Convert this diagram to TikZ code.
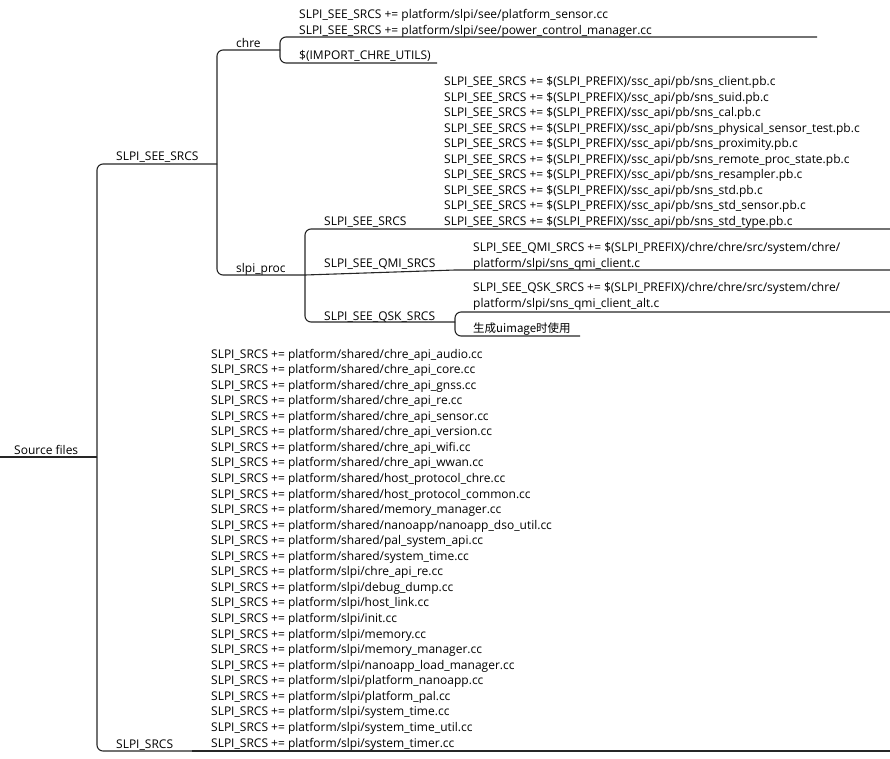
\documentclass[tikz,border=0pt]{standalone}
\usepackage{fontspec}
\setmainfont{Open Sans}
\newfontfamily\cjk{Noto Sans CJK SC}
\begin{document}
\begin{tikzpicture}[x=1pt,y=-1pt,
  lbl/.style={anchor=base west,inner sep=0pt,font=\fontsize{12}{14}\selectfont},
  ln/.style={line width=1.1pt,color=black!85},
  br/.style={ln,rounded corners=6pt}]
\useasboundingbox (0,0) rectangle (890,758);
% root
\node[lbl] (root) at (14,454) {Source files};
\coordinate (rootE) at (97,457);
\draw[ln,line width=1.4pt] (0,457) -- (rootE);
% SLPI_SEE_SRCS
\node[lbl] (see) at (116,160) {SLPI\_SEE\_SRCS};
\coordinate (seeE) at (217,164);
\draw[br] (rootE) |- (seeE);
% SLPI_SRCS
\node[lbl] (srcs) at (116,748) {SLPI\_SRCS};
\coordinate (srcsE) at (192,751);
\draw[br] (rootE) |- (srcsE);
% chre
\node[lbl] (chre) at (236,47) {chre};
\coordinate (chreE) at (280,50);
\draw[br] (seeE) |- (chreE);
\node[lbl] (c1a) at (299,18) {SLPI\_SEE\_SRCS += platform/slpi/see/platform\_sensor.cc};
\node[lbl] (c1b) at (299,34) {SLPI\_SEE\_SRCS += platform/slpi/see/power\_control\_manager.cc};
\coordinate (c1E) at (817,37);
\draw[br] (chreE) |- (c1E);
\node[lbl] (c2) at (299,59) {\$(IMPORT\_CHRE\_UTILS)};
\coordinate (c2E) at (437,63);
\draw[br] (chreE) |- (c2E);
% slpi_proc
\node[lbl] (proc) at (236,272) {slpi\_proc};
\coordinate (procE) at (305,275);
\draw[br] (seeE) |- (procE);
% proc children
\node[lbl] (p1) at (324,225) {SLPI\_SEE\_SRCS};
\coordinate (p1E) at (444,229);
\draw[br] (procE) |- (p1E) -- (890,229);
\foreach [count=\i] \f in {sns\_client,sns\_suid,sns\_cal,sns\_physical\_sensor\_test,sns\_proximity,sns\_remote\_proc\_state,sns\_resampler,sns\_std,sns\_std\_sensor,sns\_std\_type}
  \node[lbl] (pl\i) at (444,{85.5+(\i-1)*15.5}) {SLPI\_SEE\_SRCS += \$(SLPI\_PREFIX)/ssc\_api/pb/\f.pb.c};
\node[lbl] (p2) at (324,267) {SLPI\_SEE\_QMI\_SRCS};
\coordinate (p2E) at (455,270);
\draw[ln] (procE) -- (p2E) -- (890,270);
\node[lbl] (q1) at (473,251) {SLPI\_SEE\_QMI\_SRCS += \$(SLPI\_PREFIX)/chre/chre/src/system/chre/};
\node[lbl] (q2) at (473,267) {platform/slpi/sns\_qmi\_client.c};
\node[lbl] (p3) at (324,320) {SLPI\_SEE\_QSK\_SRCS};
\coordinate (p3E) at (455,322);
\draw[br] (procE) |- (p3E);
\node[lbl] (k1) at (473,291) {SLPI\_SEE\_QSK\_SRCS += \$(SLPI\_PREFIX)/chre/chre/src/system/chre/};
\node[lbl] (k2) at (473,307) {platform/slpi/sns\_qmi\_client\_alt.c};
\coordinate (k1E) at (890,312);
\draw[br] (p3E) |- (k1E);
\node[lbl,font=\cjk\fontsize{11.5}{14}\selectfont] (k3) at (473,332) {生成uimage时使用};
\coordinate (k3E) at (580,336);
\draw[br] (p3E) |- (k3E);
% SLPI_SRCS leaves
\foreach [count=\i] \f in {shared/chre\_api\_audio,shared/chre\_api\_core,shared/chre\_api\_gnss,shared/chre\_api\_re,shared/chre\_api\_sensor,shared/chre\_api\_version,shared/chre\_api\_wifi,shared/chre\_api\_wwan,shared/host\_protocol\_chre,shared/host\_protocol\_common,shared/memory\_manager,shared/nanoapp/nanoapp\_dso\_util,shared/pal\_system\_api,shared/system\_time,slpi/chre\_api\_re,slpi/debug\_dump,slpi/host\_link,slpi/init,slpi/memory,slpi/memory\_manager,slpi/nanoapp\_load\_manager,slpi/platform\_nanoapp,slpi/platform\_pal,slpi/system\_time,slpi/system\_time\_util,slpi/system\_timer}
  \node[lbl] (s\i) at (211,{358+(\i-1)*15.56}) {SLPI\_SRCS += platform/\f.cc};
\draw[ln] (srcsE) -- (890,751);
\end{tikzpicture}
\end{document}
